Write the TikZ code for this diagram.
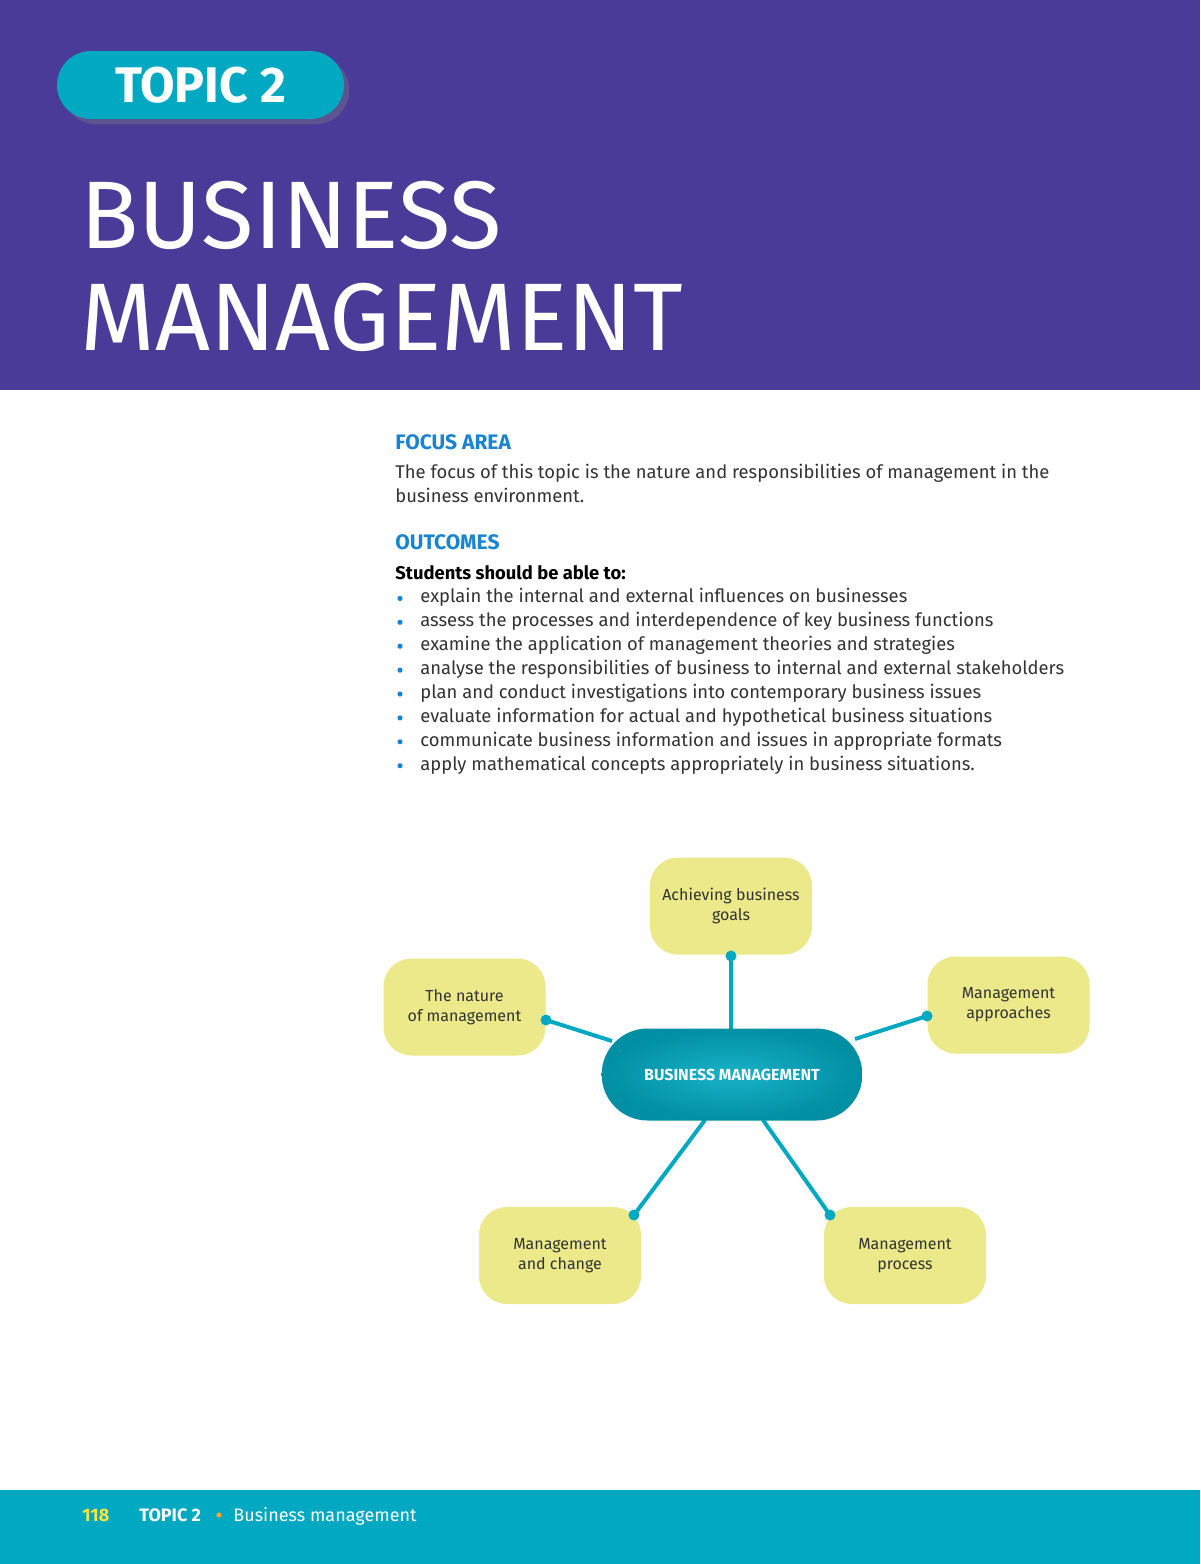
\documentclass[tikz,border=0pt]{standalone}
\usepackage{fontspec}
\setmainfont{Fira Sans}
\usetikzlibrary{shapes.misc,shadows}
\definecolor{purp}{HTML}{4A3B98}
\definecolor{teal}{HTML}{00A9C1}
\definecolor{dteal}{HTML}{008FA3}
\definecolor{boxy}{HTML}{EBE98A}
\definecolor{blu}{HTML}{1B84D0}
\definecolor{txt}{HTML}{333333}
\definecolor{yel}{HTML}{F5E642}
\definecolor{org}{HTML}{F5A623}
\tikzset{
 topic/.style={draw=none,fill=boxy,rounded corners=14pt,minimum width=81pt,minimum height=48.5pt,align=center,font=\fontsize{8}{10}\selectfont,text=txt},
 conn/.style={teal,line width=2pt},
 dotm/.style={circle,fill=teal,inner sep=0pt,minimum size=5.5pt},
 bl/.style={anchor=base west,font=\fontsize{9.2}{11}\selectfont,text=txt,inner sep=0pt}
}
\begin{document}
\begin{tikzpicture}[x=0.5pt,y=-0.5pt]
\useasboundingbox (0,0) rectangle (1200,1564);
% header
\fill[purp] (0,0) rectangle (1200,390);
\fill[white] (0,465) .. controls (40,410) and (90,392) .. (135,390) -- (1200,390) -- (1200,470) -- (0,470) -- cycle;
\fill[white] (0,469) rectangle (1200,1490);
\node[fill=teal,rounded corners=17pt,minimum width=143.5pt,minimum height=34pt,drop shadow={opacity=0.35},text=white,font=\fontsize{25}{25}\bfseries\selectfont] (tp) at (200.5,85) {TOPIC 2};
\node[anchor=base west,inner sep=0pt,text=white,font=\fontsize{48}{50}\selectfont] (t1) at (80,248) {BUSINESS};
\node[anchor=base west,inner sep=0pt,text=white,font=\fontsize{48}{50}\selectfont] (t2) at (80,350) {MANAGEMENT};
% text
\node[anchor=base west,inner sep=0pt,text=blu,font=\fontsize{10.5}{12}\bfseries\selectfont] (fa) at (395,449) {FOCUS AREA};
\node[bl] (f1) at (395,478) {The focus of this topic is the nature and responsibilities of management in the};
\node[bl] (f2) at (395,502) {business environment.};
\node[anchor=base west,inner sep=0pt,text=blu,font=\fontsize{10.5}{12}\bfseries\selectfont] (oc) at (395,549) {OUTCOMES};
\node[bl,font=\fontsize{9.2}{11}\bfseries\selectfont,text=black] (st) at (395,579) {Students should be able to:};
\foreach \t [count=\i] in {explain the internal and external influences on businesses,
assess the processes and interdependence of key business functions,
examine the application of management theories and strategies,
analyse the responsibilities of business to internal and external stakeholders,
plan and conduct investigations into contemporary business issues,
evaluate information for actual and hypothetical business situations,
communicate business information and issues in appropriate formats,
apply mathematical concepts appropriately in business situations.}{
 \node[bl] (o\i) at (420,579+23.9*\i) {\t};
 \fill[blu] (400,574.5+23.9*\i) circle (2.6);
}
% diagram
\node[topic] (g) at (731,906) {Achieving business\\goals};
\node[topic] (n) at (464.5,1007) {The nature\\of management};
\node[topic] (a) at (1008.5,1005) {Management\\approaches};
\node[topic] (ch) at (560,1255.5) {Management\\and change};
\node[topic] (p) at (905,1255.5) {Management\\process};
\coordinate (dg) at (731,956);
\coordinate (dn) at (546,1020);
\coordinate (da) at (927,1016);
\coordinate (dc) at (634,1215);
\coordinate (dp) at (830,1215);
\coordinate (cg) at (731,1030);
\coordinate (cn) at (612,1041);
\coordinate (ca) at (855,1039);
\coordinate (cc) at (705,1120);
\coordinate (cp) at (763,1120);
\foreach \x/\y in {dg/cg,dn/cn,da/ca,dc/cc,dp/cp}{\draw[conn] (\x) -- (\y); \node[dotm] at (\x) {};}
\node[rounded rectangle,minimum width=137pt,minimum height=46pt,inner color=teal!90,outer color=dteal,text=white,font=\fontsize{8}{10}\bfseries\selectfont] (c) at (732,1074.5) {BUSINESS MANAGEMENT};
% footer
\fill[teal] (0,1490) rectangle (1200,1564);
\node[anchor=base west,inner sep=0pt,text=yel,font=\fontsize{9}{10}\bfseries\selectfont] (pg) at (82,1521) {118};
\node[anchor=base west,inner sep=0pt,text=white,font=\fontsize{9}{10}\bfseries\selectfont] (ft) at (139,1521) {TOPIC 2};
\fill[org] (219,1515) circle (2.6);
\node[anchor=base west,inner sep=0pt,text=white,font=\fontsize{9}{10}\selectfont] (fb) at (233,1521) {Business management};
\end{tikzpicture}
\end{document}
